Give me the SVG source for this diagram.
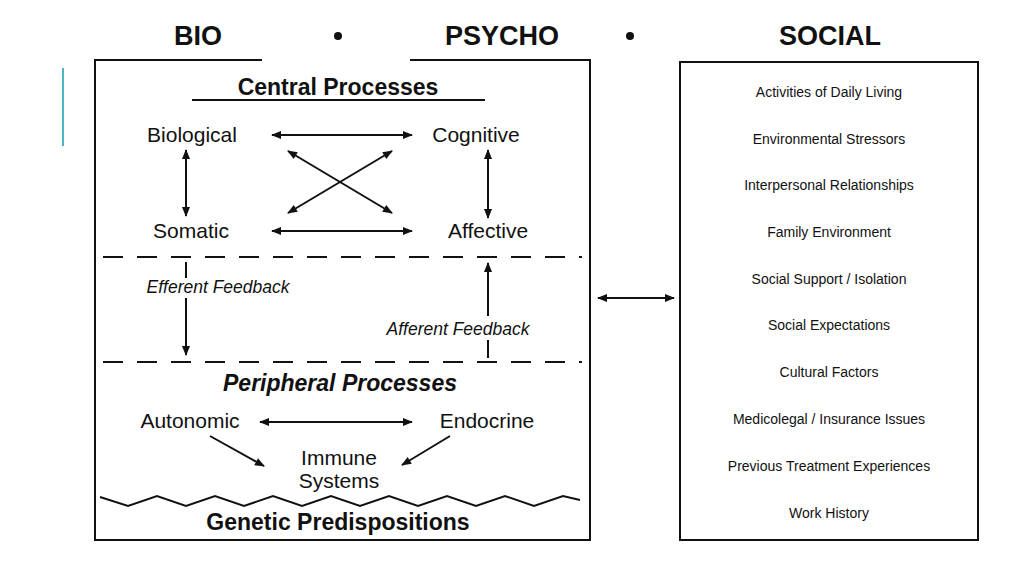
<svg xmlns="http://www.w3.org/2000/svg" width="1024" height="576" viewBox="0 0 1024 576">
<style>
text{font-family:"Liberation Sans",Arial,sans-serif;fill:#111}
.t{font-size:27px;font-weight:bold}
.n{font-size:21px}
.s{font-size:14px}
.i{font-style:italic;font-size:17.5px}
.h{font-size:23px;font-weight:bold}
.ln{stroke:#111;stroke-width:2;fill:none}
.ar{stroke:#111;stroke-width:2;fill:none;marker-start:url(#a);marker-end:url(#a)}
.a1{stroke:#111;stroke-width:2;fill:none;marker-end:url(#a)}
.d{stroke:#111;stroke-width:2;stroke-dasharray:20,14;fill:none}
</style>
<defs><marker id="a" viewBox="0 0 10 10" refX="9" refY="5" markerWidth="15" markerHeight="10" orient="auto-start-reverse" markerUnits="userSpaceOnUse"><path d="M0,1 L10,5 L0,9 Z" fill="#111"/></marker></defs>
<rect width="1024" height="576" fill="#fff"/>
<line x1="63" y1="68" x2="63" y2="146" stroke="#4bb3c6" stroke-width="2"/>
<g id="titles">
<text class="t" x="198" y="45" text-anchor="middle">BIO</text>
<circle cx="338" cy="36" r="4" fill="#111"/>
<text class="t" x="502" y="45" text-anchor="middle">PSYCHO</text>
<circle cx="630" cy="36" r="4" fill="#111"/>
<text class="t" x="830" y="45" text-anchor="middle">SOCIAL</text>
</g>
<g id="biopsycho-box">
<path class="ln" d="M262,60 H95 V540 H590 V60 H410"/>
<text class="h" x="338" y="95" text-anchor="middle">Central Processes</text>
<line x1="192" y1="100" x2="485" y2="100" stroke="#111" stroke-width="2"/>
</g>
<g id="biological"><text class="n" x="192" y="142" text-anchor="middle">Biological</text></g>
<g id="cognitive"><text class="n" x="476" y="142" text-anchor="middle">Cognitive</text></g>
<g id="somatic"><text class="n" x="191" y="238" text-anchor="middle">Somatic</text></g>
<g id="affective"><text class="n" x="488" y="238" text-anchor="middle">Affective</text></g>
<g id="efferent"><text class="i" x="218" y="293" text-anchor="middle">Efferent Feedback</text></g>
<g id="afferent"><text class="i" x="458" y="335" text-anchor="middle">Afferent Feedback</text></g>
<text class="h" x="340" y="391" text-anchor="middle" style="font-style:italic">Peripheral Processes</text>
<g id="autonomic"><text class="n" x="190" y="428" text-anchor="middle">Autonomic</text></g>
<g id="endocrine"><text class="n" x="487" y="428" text-anchor="middle">Endocrine</text></g>
<g id="immune"><text class="n" x="339" y="465" text-anchor="middle">Immune</text><text class="n" x="339" y="488" text-anchor="middle">Systems</text></g>
<path class="ln" d="M100,497 L128,506 L157,496 L186,506 L215,496 L244,506 L273,496 L302,506 L331,496 L360,506 L389,496 L418,506 L447,496 L476,506 L505,496 L534,506 L563,496 L580,500"/>
<g id="genetic"><text class="h" x="338" y="530" text-anchor="middle">Genetic Predispositions</text></g>
<g id="social-box">
<rect class="ln" x="680" y="62" width="298" height="478"/>
<text class="s" x="829" y="97" text-anchor="middle">Activities of Daily Living</text>
<text class="s" x="829" y="144" text-anchor="middle">Environmental Stressors</text>
<text class="s" x="829" y="190" text-anchor="middle">Interpersonal Relationships</text>
<text class="s" x="829" y="237" text-anchor="middle">Family Environment</text>
<text class="s" x="829" y="284" text-anchor="middle">Social Support / Isolation</text>
<text class="s" x="829" y="330" text-anchor="middle">Social Expectations</text>
<text class="s" x="829" y="377" text-anchor="middle">Cultural Factors</text>
<text class="s" x="829" y="424" text-anchor="middle">Medicolegal / Insurance Issues</text>
<text class="s" x="829" y="471" text-anchor="middle">Previous Treatment Experiences</text>
<text class="s" x="829" y="518" text-anchor="middle">Work History</text>
</g>
<g id="connectors">
<line class="d" x1="103" y1="257" x2="582" y2="257"/>
<line class="d" x1="103" y1="362" x2="582" y2="362"/>
<line class="ar" x1="272" y1="135" x2="412" y2="135"/>
<line class="ar" x1="272" y1="231" x2="412" y2="231"/>
<line class="ar" x1="186" y1="150" x2="186" y2="216"/>
<line class="ar" x1="488" y1="150" x2="488" y2="218"/>
<line class="ar" x1="288" y1="151" x2="392" y2="213"/>
<line class="ar" x1="392" y1="151" x2="288" y2="213"/>
<line class="ln" x1="186" y1="262" x2="186" y2="278"/>
<line class="a1" x1="186" y1="298" x2="186" y2="355"/>
<line class="a1" x1="488" y1="316" x2="488" y2="263"/>
<line class="ln" x1="488" y1="340" x2="488" y2="358"/>
<line class="ar" x1="260" y1="422" x2="412" y2="422"/>
<line class="a1" x1="210" y1="436" x2="264" y2="466"/>
<line class="a1" x1="450" y1="436" x2="402" y2="465"/>
<line class="ar" x1="598" y1="298" x2="674" y2="298"/>
</g>
</svg>
